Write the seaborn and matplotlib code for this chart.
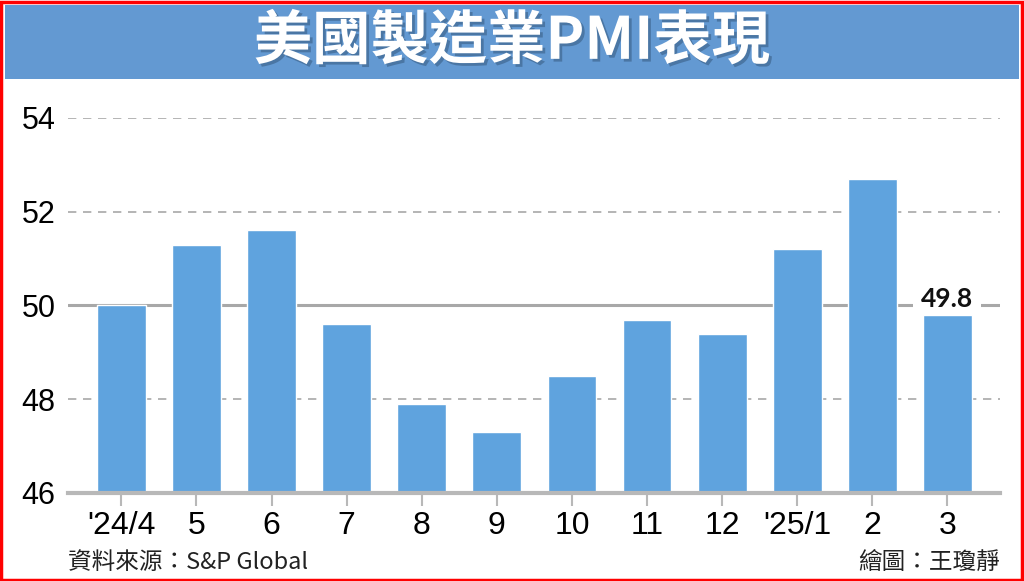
import matplotlib
matplotlib.use('Agg')
import matplotlib.pyplot as plt
import matplotlib.patches as mpatches
import matplotlib.patheffects as pe
import seaborn as sns
import pandas as pd

# data
months = ["'24/4", "5", "6", "7", "8", "9", "10", "11", "12", "'25/1", "2", "3"]
pmi = [50.0, 51.3, 51.6, 49.6, 47.9, 47.3, 48.5, 49.7, 49.4, 51.2, 52.7, 49.8]
y_ticks = [46, 48, 50, 52, 54]
title_text = "美國製造業PMI表現"
source_text = "資料來源：S&P Global"
credit_text = "繪圖：王瓊靜"

bar_color = "#5fa3de"
band_color = "#6399d2"
grid_color = "#a8a8a8"

sns.set_theme(style="white")
plt.rcParams['font.family'] = ['Liberation Sans', 'Noto Sans CJK TC', 'DejaVu Sans']

df = pd.DataFrame({"month": months, "pmi": pmi})

fig = plt.figure(figsize=(10.24, 5.81), dpi=100)
fig.patch.set_facecolor("white")

# red frame and blue title band
fig.patches.append(mpatches.Rectangle((0.001, 0.002), 0.997, 0.995, transform=fig.transFigure,
                                      fill=False, edgecolor="#ff0000", linewidth=2.5))
fig.patches.append(mpatches.Rectangle((0.005, 0.864), 0.990, 0.127, transform=fig.transFigure,
                                      facecolor=band_color, edgecolor="none"))
fig.text(0.5, 0.928, title_text, ha="center", va="center", color="white", fontsize=42,
         fontweight="black", family=["Noto Sans CJK TC", "DejaVu Sans"],
         path_effects=[pe.withSimplePatchShadow(offset=(2, -2), shadow_rgbFace="#3a5f86", alpha=0.6)])

ax = fig.add_axes([0.0664, 0.1515, 0.9102, 0.6455])
sns.barplot(data=df, x="month", y="pmi", color=bar_color, width=0.65, saturation=1,
            ax=ax, zorder=3)
ax.set_ylim(46, 54)
ax.set_xlim(-0.71, 11.7)

for t in y_ticks[1:]:
    if t == 50:
        ax.axhline(t, color=grid_color, lw=2.2, zorder=1)
    else:
        ax.axhline(t, color=grid_color, lw=1.2, ls=(0, (5, 4)), zorder=1)

ax.set_yticks(y_ticks)
ax.set_yticklabels([str(t) for t in y_ticks], fontsize=22, color="black")
ax.set_xlabel("")
ax.set_ylabel("")
ax.set_xticks(range(len(months)))
ax.set_xticklabels(months, fontsize=23, color="black",
                   family=["Liberation Sans Narrow", "Liberation Sans", "DejaVu Sans"])

for s in ["top", "right", "left"]:
    ax.spines[s].set_visible(False)
ax.spines["bottom"].set_color("#b8b8b8")
ax.spines["bottom"].set_linewidth(3)
ax.spines["bottom"].set_zorder(4)
ax.tick_params(axis="x", direction="out", length=9, width=1.5, color="#b8b8b8", pad=4, bottom=True)
ax.tick_params(axis="y", length=0, pad=9)

# value label on last bar
ax.text(len(months) - 1, pmi[-1] + 0.09, f"{pmi[-1]:.1f}", ha="center", va="bottom",
        fontsize=19, fontweight="bold", color="#111111", family=["Lato", "DejaVu Sans"],
        bbox=dict(boxstyle="square,pad=0.3", facecolor="white", edgecolor="none"), zorder=2.5)

fig.text(0.066, 0.032, source_text, ha="left", va="center", fontsize=17, color="#222222",
         family=["Noto Sans CJK TC", "DejaVu Sans"])
fig.text(0.977, 0.032, credit_text, ha="right", va="center", fontsize=17, color="#222222",
         family=["Noto Sans CJK TC", "DejaVu Sans"])

fig.savefig("out.png", dpi=100)
